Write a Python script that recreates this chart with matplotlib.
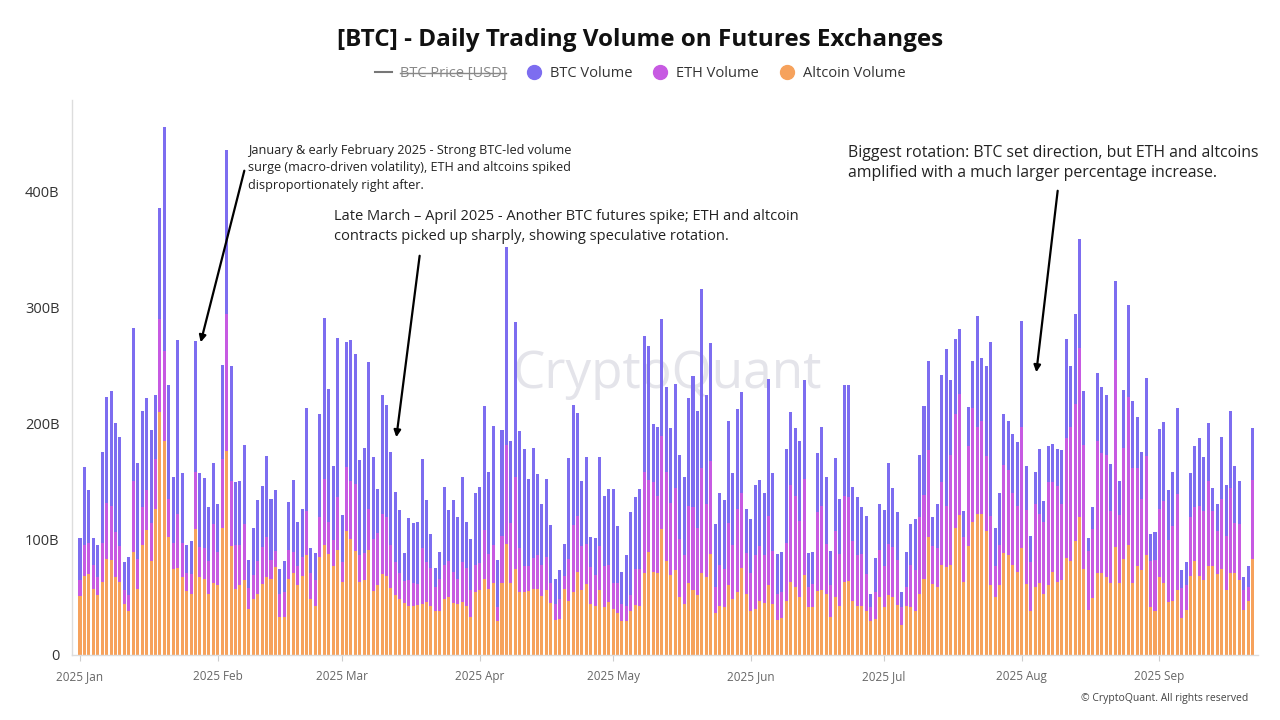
import matplotlib.pyplot as plt
import pandas as pd
from matplotlib.lines import Line2D

plt.rcParams['font.family'] = ['Open Sans', 'DejaVu Sans']

# Daily volumes in billions of USD, 2025-01-01 onwards.
START_DATE = '2025-01-01'

BTC_VOLUME = [
    36, 67, 45, 23, 28, 78, 92, 99, 94, 94, 24, 33, 132, 83, 83, 80, 80, 55, 96, 194, 98,
    57, 150, 60, 24, 28, 113, 64, 61, 47, 53, 41, 81, 142, 99, 54, 55, 68, 24, 41, 53, 53, 70,
    53, 52, 21, 27, 41, 62, 38, 41, 89, 21, 23, 89, 139, 115, 64, 138, 41, 108, 122, 112, 82, 91, 127,
    71, 38, 102, 97, 80, 61, 54, 24, 53, 52, 54, 77, 54, 29, 16, 23, 67, 44, 62, 53, 74, 40,
    44, 62, 66, 107, 71, 103, 41, 91, 171, 71, 133, 101, 101, 75, 95, 70, 52, 67, 50, 22, 25, 28,
    87, 104, 89, 56, 75, 26, 32, 77, 60, 65, 81, 49, 28, 44, 71, 62, 69, 117, 116, 50, 60, 101,
    73, 65, 90, 73, 68, 93, 113, 101, 155, 94, 102, 54, 62, 60, 88, 62, 86, 87, 38, 46, 61, 57, 54,
    118, 67, 34, 35, 81, 63, 59, 69, 85, 29, 28, 51, 68, 58, 30, 63, 48, 96, 97, 47, 50, 41,
    50, 12, 30, 39, 48, 70, 51, 41, 13, 30, 35, 44, 54, 77, 77, 25, 38, 93, 135, 64, 65, 56,
    22, 34, 41, 96, 54, 77, 150, 33, 45, 44, 42, 51, 55, 91, 38, 23, 28, 56, 18, 31, 33, 32,
    47, 86, 52, 77, 94, 47, 11, 19, 58, 57, 51, 41, 68, 29, 50, 79, 58, 44, 40, 67, 23, 24, 69,
    68, 43, 47, 74, 15, 20, 38, 52, 58, 47, 50, 20, 23, 53, 44, 67, 49, 37, 11, 18, 45,
]

ETH_VOLUME = [
    14, 27, 27, 21, 15, 34, 48, 47, 39, 31, 12, 14, 61, 26, 33, 34, 33, 43, 80, 77, 33,
    23, 47, 30, 16, 17, 49, 26, 26, 28, 51, 29, 59, 118, 56, 38, 35, 48, 18, 21, 28, 32, 35,
    16, 14, 20, 21, 25, 18, 17, 17, 38, 23, 23, 34, 57, 28, 22, 45, 17, 55, 50, 58, 23, 23, 35,
    45, 45, 52, 51, 37, 28, 23, 19, 23, 20, 18, 48, 34, 33, 21, 28, 30, 31, 27, 22, 34, 33,
    23, 24, 23, 42, 30, 33, 12, 41, 85, 52, 80, 38, 23, 22, 27, 29, 27, 29, 17, 14, 17, 11,
    36, 58, 48, 38, 35, 32, 27, 38, 36, 32, 22, 26, 15, 13, 14, 31, 32, 87, 62, 77, 66, 80,
    77, 62, 71, 50, 42, 67, 72, 58, 90, 63, 80, 23, 36, 33, 54, 47, 72, 65, 35, 33, 46, 47, 41,
    60, 46, 23, 22, 50, 84, 78, 66, 83, 18, 20, 68, 73, 43, 27, 57, 45, 74, 72, 51, 44, 45,
    32, 12, 23, 41, 36, 44, 43, 39, 15, 17, 37, 35, 66, 72, 75, 33, 33, 71, 53, 95, 98, 104,
    39, 86, 98, 75, 80, 65, 60, 27, 35, 76, 74, 62, 57, 105, 64, 42, 71, 60, 62, 89, 77, 83,
    65, 103, 116, 119, 146, 107, 51, 60, 114, 103, 106, 62, 162, 59, 96, 128, 99, 84, 62, 86, 40, 44, 59,
    71, 53, 64, 83, 26, 21, 51, 47, 61, 59, 73, 47, 37, 61, 47, 73, 43, 48, 17, 12, 68,
]

ALTCOIN_VOLUME = [
    51, 68, 70, 57, 52, 63, 83, 82, 67, 63, 44, 38, 89, 57, 95, 108, 81, 126, 210, 185, 102,
    74, 75, 67, 55, 53, 109, 67, 66, 53, 62, 60, 110, 176, 94, 57, 60, 65, 40, 48, 53, 61, 67,
    66, 76, 33, 33, 66, 71, 60, 68, 86, 48, 42, 85, 95, 87, 77, 91, 63, 107, 100, 90, 63, 65, 91,
    55, 60, 70, 68, 58, 52, 48, 45, 42, 42, 43, 44, 46, 42, 38, 38, 48, 50, 45, 44, 46, 42,
    33, 54, 56, 66, 57, 62, 29, 62, 96, 62, 74, 54, 54, 55, 57, 57, 51, 56, 45, 30, 31, 57,
    47, 54, 72, 56, 61, 44, 42, 56, 41, 46, 40, 36, 29, 29, 38, 43, 42, 71, 89, 72, 71, 109,
    81, 69, 73, 50, 44, 62, 56, 52, 71, 67, 87, 36, 42, 41, 60, 48, 54, 75, 53, 38, 40, 47, 45,
    60, 44, 30, 32, 47, 63, 59, 50, 69, 41, 41, 55, 56, 53, 33, 50, 42, 63, 64, 47, 42, 42,
    38, 29, 31, 50, 41, 52, 50, 43, 26, 42, 41, 38, 53, 66, 102, 61, 59, 78, 76, 78, 110, 121,
    63, 94, 115, 122, 122, 107, 60, 50, 60, 88, 86, 78, 72, 92, 61, 38, 59, 62, 53, 60, 72, 63,
    65, 84, 81, 98, 119, 74, 39, 49, 71, 71, 67, 62, 93, 62, 83, 95, 62, 77, 73, 86, 41, 38, 67,
    62, 46, 47, 56, 32, 39, 68, 81, 68, 65, 77, 77, 70, 74, 56, 71, 71, 65, 39, 47, 83,
]

MONTH_LABELS = ['2025 Jan', '2025 Feb', '2025 Mar', '2025 Apr', '2025 May',
                '2025 Jun', '2025 Jul', '2025 Aug', '2025 Sep']
Y_TICKS = [0, 100, 200, 300, 400]

BTC_COLOR = '#7d6df0'
ETH_COLOR = '#c75ae2'
ALT_COLOR = '#f6a25c'


def main() -> None:
    dates = pd.date_range(START_DATE, periods=len(BTC_VOLUME), freq='D')
    alt = pd.Series(ALTCOIN_VOLUME, index=dates)
    eth = pd.Series(ETH_VOLUME, index=dates)
    btc = pd.Series(BTC_VOLUME, index=dates)

    fig = plt.figure(figsize=(12.8, 7.2), dpi=100)
    ax = fig.add_axes([0.05625, 0.0903, 0.9266, 0.7708])

    width = 0.68
    ax.bar(dates, alt, width=width, color=ALT_COLOR, linewidth=0)
    ax.bar(dates, eth, width=width, bottom=alt, color=ETH_COLOR, linewidth=0)
    ax.bar(dates, btc, width=width, bottom=alt + eth, color=BTC_COLOR, linewidth=0)

    ax.set_xlim(dates[0] - pd.Timedelta(days=1.8), dates[-1] + pd.Timedelta(days=1.2))
    ax.set_ylim(0, 479)

    month_starts = pd.date_range(START_DATE, periods=len(MONTH_LABELS), freq='MS')
    ax.set_xticks(month_starts)
    ax.set_xticklabels(MONTH_LABELS)
    ax.tick_params(axis='x', length=4, color='#cccccc', labelsize=8.5, labelcolor='#666666', pad=7)

    ax.set_yticks(Y_TICKS)
    ax.set_yticklabels([f'{v}B' if v else '0' for v in Y_TICKS])
    ax.tick_params(axis='y', length=0, labelsize=10.5, labelcolor='#333333', pad=9)

    for side in ('top', 'right'):
        ax.spines[side].set_visible(False)
    for side in ('left', 'bottom'):
        ax.spines[side].set_color('#dddddd')
        ax.spines[side].set_linewidth(1.0)

    # watermark
    ax.text(0.502, 0.505, 'CryptoQuant', transform=ax.transAxes, fontsize=37,
            color='#e4e4ea', ha='center', va='center', zorder=0.5)

    fig.text(0.5, 0.945, '[BTC] - Daily Trading Volume on Futures Exchanges',
             ha='center', va='center', fontsize=17.5, fontweight='bold', color='#111111')

    handles = [
        Line2D([0], [0], color='#777777', lw=1.5),
        Line2D([0], [0], marker='o', ls='', color=BTC_COLOR, markersize=10),
        Line2D([0], [0], marker='o', ls='', color=ETH_COLOR, markersize=10),
        Line2D([0], [0], marker='o', ls='', color=ALT_COLOR, markersize=10),
    ]
    labels = ['BTC Price [USD]', 'BTC Volume', 'ETH Volume', 'Altcoin Volume']
    leg = fig.legend(handles, labels, loc='center', bbox_to_anchor=(0.5, 0.898), ncol=4,
                     frameon=False, fontsize=10.5, handlelength=1.2, handletextpad=0.5,
                     columnspacing=1.3)
    leg.get_texts()[0].set_color('#888888')
    for t in leg.get_texts()[1:]:
        t.set_color('#333333')

    # strike through the hidden price series
    fig.canvas.draw()
    bb = leg.get_texts()[0].get_window_extent()
    ymid = (bb.y0 + bb.y1) / 2
    fig.add_artist(Line2D([bb.x0, bb.x1], [ymid, ymid], color='#888888', lw=1,
                          transform=None))

    note_kw = dict(fontsize=9.1, color='#222222', ha='left', va='top', linespacing=1.45)
    fig.text(248 / 1280, 1 - 144 / 720,
             'January & early February 2025 - Strong BTC-led volume\n'
             'surge (macro-driven volatility), ETH and altcoins spiked\n'
             'disproportionately right after.', **note_kw)
    note_kw['fontsize'] = 10.5
    fig.text(334 / 1280, 1 - 209 / 720,
             'Late March \u2013 April 2025 - Another BTC futures spike; ETH and altcoin\n'
             'contracts picked up sharply, showing speculative rotation.', **note_kw)
    note_kw['fontsize'] = 11.4
    note_kw['linespacing'] = 1.3
    fig.text(848 / 1280, 1 - 145 / 720,
             'Biggest rotation: BTC set direction, but ETH and altcoins\n'
             'amplified with a much larger percentage increase.', **note_kw)

    arrow_kw = dict(arrowstyle='-|>', color='black', lw=1.6, mutation_scale=10)
    for (x0, y0), (x1, y1) in [((245, 168), (200, 345)),
                               ((420, 253), (396, 440)),
                               ((1058, 188), (1036, 375))]:
        ax.annotate('', xy=(x1, 720 - y1), xytext=(x0, 720 - y0),
                    xycoords='figure pixels', textcoords='figure pixels',
                    arrowprops=arrow_kw)

    fig.text(1248 / 1280, 1 - 698 / 720, '\u00a9 CryptoQuant. All rights reserved',
             ha='right', va='center', fontsize=7.5, color='#444444')

    fig.savefig('out.png', dpi=100)


if __name__ == '__main__':
    main()
